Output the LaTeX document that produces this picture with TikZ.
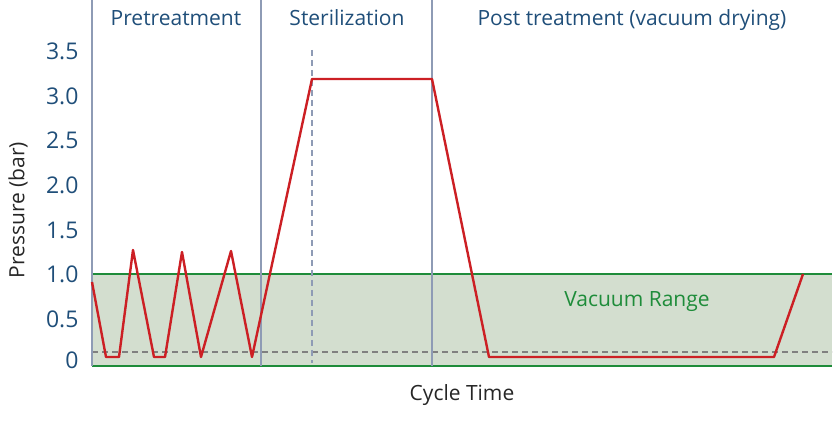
\documentclass[tikz,border=0pt]{standalone}
\usepackage{fontspec}
\setmainfont{Open Sans}
\definecolor{axblue}{HTML}{1F4E79}
\definecolor{vline}{HTML}{8E9BB5}
\definecolor{gr}{HTML}{1E8C3A}
\definecolor{band}{HTML}{D3DECF}
\definecolor{rd}{HTML}{CC1F24}
\begin{document}
\begin{tikzpicture}[x=1pt,y=-1pt,
  tick/.style={anchor=east,text=axblue,font=\fontsize{23}{26}\selectfont},
  head/.style={anchor=base,text=axblue,font=\fontsize{21}{24}\selectfont},
  lbl/.style={text=black!85,font=\fontsize{21}{24}\selectfont},
  dsh/.style={dash pattern=on 6pt off 4pt}]
\useasboundingbox (0,0) rectangle (840,435);
\fill[band] (92,274) rectangle (832,366);
\draw[gr,line width=2pt] (92,274) -- (832,274);
\draw[gr,line width=2pt] (92,366) -- (832,366);
\draw[gray,dsh,line width=1.4pt] (92,352) -- (832,352);
\foreach \x in {92,261,432} \draw[vline,line width=2pt] (\x,0) -- (\x,366);
\draw[vline,dsh,line width=1.5pt] (312,50) -- (312,363);
\foreach \v/\y in {3.5/51,3.0/96,2.5/140,2.0/185,1.5/230,1.0/274,0.5/319,0/360}
  \node[tick] at (82,\y) {\v};
\node[head] at (176,26) {Pretreatment};
\node[head] at (347,26) {Sterilization};
\node[head] at (632,26) {Post treatment (vacuum drying)};
\node[text=gr,font=\fontsize{21}{24}\selectfont] at (637,302) {Vacuum Range};
\node[lbl] at (462,395) {Cycle Time};
\node[lbl,rotate=90] at (18,210) {Pressure (bar)};
\draw[rd,line width=2.4pt,line join=round] (92,282) -- (106,357) -- (119,357) -- (133,250) -- (154,357) -- (165,357) -- (182,252) -- (201,357) -- (231,251) -- (252,357) -- (312,79) -- (432,79) -- (489,357) -- (774,357) -- (803,274);
\end{tikzpicture}
\end{document}
